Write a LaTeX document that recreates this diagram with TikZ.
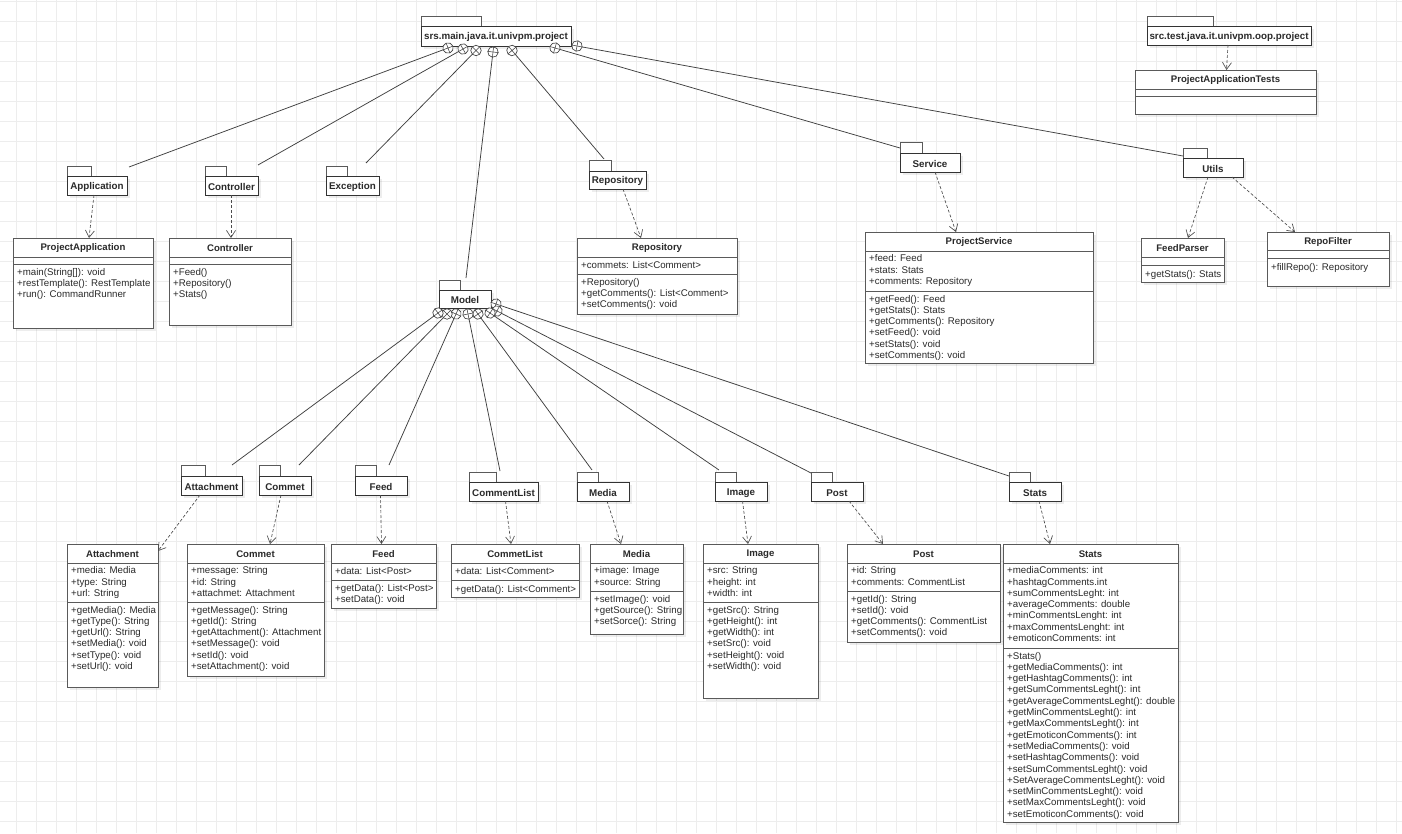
\documentclass[tikz,border=0pt]{standalone}
\usepackage{fontspec}
\setmainfont{Liberation Sans}
\usetikzlibrary{arrows.meta}
\definecolor{inkc}{HTML}{2A2A2A}
\definecolor{edgec}{HTML}{5A5A5A}
\definecolor{gridc}{HTML}{EDEDED}
\tikzset{
  x=1pt,y=-1pt,
  gridline/.style={draw=gridc,line width=.7pt},
  softshadow/.style={fill=black,fill opacity=.07,draw=none},
  boxshape/.style={draw=edgec,line width=.9pt,fill=white,rectangle,inner sep=0pt,outer sep=0pt,anchor=north west},
  sepline/.style={draw=edgec,line width=.8pt},
  titletext/.style={font=\fontsize{9.6pt}{11.3pt}\selectfont\bfseries,text=inkc,inner sep=0pt},
  pkgtext/.style={font=\fontsize{9.8pt}{11.3pt}\selectfont\bfseries,text=inkc,inner sep=0pt,yshift=-1.2pt},
  rowstext/.style={font=\fontsize{9.7pt}{11.3pt}\selectfont,text=inkc,align=left,inner sep=0pt,anchor=north west,execute at begin node={\rule{0pt}{8pt}}},
  assoc/.style={draw=black!75,line width=.75pt},
  nestmark/.style={circle,draw=black!75,fill=white,line width=.65pt,minimum size=10.5pt,inner sep=0pt,outer sep=0pt},
  dep/.style={draw=black!70,line width=.65pt,dash pattern=on 3pt off 2pt,-{Straight Barb[length=7pt,width=9pt,line width=.65pt]}},
}
% name x1 y1 x2 y4
\newcommand\classbox[5]{%
  \pgfmathsetmacro\bw{#4-#2}\pgfmathsetmacro\bh{#5-#3}%
  \fill[softshadow] (#2+3,#3+3) rectangle (#4+3,#5+3);
  \node[boxshape,minimum width=\bw pt,minimum height=\bh pt] (#1) at (#2,#3) {};
}
\newcommand\classhead[6]{% name x1 x2 y1 y2 title
  \pgfmathsetmacro\tcx{(#2+#3)/2}\pgfmathsetmacro\tcy{#4+10.3}%
  \node[titletext] (#1-title) at (\tcx,\tcy) {#6};
  \draw[sepline] (#2,#5) -- (#3,#5);
}
\newcommand\classrows[4]{% name x1 yline rows
  \draw[sepline] (#2,#3) -- (#1.east |- #2,#3);
  \node[rowstext] (#1-rows#3) at (#2+4,#3+3.8) {#4};
}
% name x1 x2 tabx y1 y2 y3 label
\newcommand\pkgbox[8]{%
  \pgfmathsetmacro\bw{#3-#2}\pgfmathsetmacro\bh{#7-#6}%
  \fill[softshadow] (#2+3,#6+3) rectangle (#3+3,#7+3);
  \draw[draw=edgec,line width=.9pt,fill=white] (#2,#6) -- (#2,#5) -- (#4,#5) -- (#4,#6);
  \node[boxshape,draw=black!80,minimum width=\bw pt,minimum height=\bh pt] (#1) at (#2,#6) {};
  \node[pkgtext] at (#1.center) {#8};
}
% name x y endx endy
\newcommand\nest[5]{%
  \pgfmathsetmacro\na{atan2(-(#5-#3),#4-#2)}%
  \coordinate (#1-end) at (#4,#5);
  \draw[assoc] (#2,#3) -- (#1-end);
  \node[nestmark,rotate=\na] (#1) at (#2,#3) {};
  \draw[black!75,line width=.55pt] (#1.north) -- (#1.south) (#1.east) -- (#1.west);
}
\begin{document}
\begin{tikzpicture}
\useasboundingbox (0,0) rectangle (1402,833);
\fill[white] (0,0) rectangle (1402,833);
\foreach \i in {0,...,70} {\draw[gridline] (\i*20-4,0) -- (\i*20-4,833);}
\foreach \i in {0,...,41} {\draw[gridline] (0,\i*20+1) -- (1402,\i*20+1);}

% packages
\pkgbox{ptop}{421}{571}{481}{16}{26}{46}{srs.main.java.it.univpm.project}
\pkgbox{ptest}{1147}{1311}{1213}{16}{26}{45}{src.test.java.it.univpm.oop.project}
\pkgbox{papp}{67}{127}{91}{166}{176}{195}{Application}
\pkgbox{pctl}{205}{258}{226}{166}{176}{195}{Controller}
\pkgbox{pexc}{326}{379}{347}{166}{176}{195}{Exception}
\pkgbox{prep}{589}{646}{611}{160}{171}{189}{Repository}
\pkgbox{psvc}{900}{960}{922}{142}{153}{172}{Service}
\pkgbox{putl}{1183}{1243}{1207}{148}{158}{177}{Utils}
\pkgbox{pmod}{439}{491}{460}{280}{290}{308}{Model}
\pkgbox{patt}{181}{242}{205}{465}{476}{495}{Attachment}
\pkgbox{pcom}{259}{311}{280}{465}{476}{495}{Commet}
\pkgbox{pfee}{355}{407}{376}{465}{476}{495}{Feed}
\pkgbox{pcli}{469}{538}{496}{472}{482}{501}{CommentList}
\pkgbox{pmed}{577}{629}{598}{472}{482}{501}{Media}
\pkgbox{pima}{715}{767}{736}{472}{482}{501}{Image}
\pkgbox{ppos}{811}{863}{832}{472}{482}{501}{Post}
\pkgbox{psta}{1009}{1061}{1030}{472}{482}{501}{Stats}

% classes
\classbox{ctests}{1135}{70}{1316}{114}
\classhead{ctests}{1135}{1316}{70}{89}{ProjectApplicationTests}
\draw[sepline] (1135,96) -- (1316,96);

\classbox{capp}{13}{238}{153}{328}
\classhead{capp}{13}{153}{238}{257}{ProjectApplication}
\classrows{capp}{13}{264}{+main(String[]): void\\+restTemplate(): RestTemplate\\+run(): CommandRunner}

\classbox{cctl}{169}{238}{291}{325}
\classhead{cctl}{169}{291}{238}{257}{Controller}
\classrows{cctl}{169}{264}{+Feed()\\+Repository()\\+Stats()}

\classbox{crep}{577}{238}{737}{314}
\classhead{crep}{577}{737}{238}{257}{Repository}
\node[rowstext] (crep-a) at (581,260.5) {+commets: List<Comment>};
\classrows{crep}{577}{274}{+Repository()\\+getComments(): List<Comment>\\+setComments(): void}

\classbox{csvc}{865}{232}{1093}{363}
\classhead{csvc}{865}{1093}{232}{251}{ProjectService}
\node[rowstext] (csvc-a) at (869,254.5) {+feed: Feed\\+stats: Stats\\+comments: Repository};
\classrows{csvc}{865}{291}{+getFeed(): Feed\\+getStats(): Stats\\+getComments(): Repository\\+setFeed(): void\\+setStats(): void\\+setComments(): void}

\classbox{cfp}{1141}{238}{1224}{282}
\classhead{cfp}{1141}{1224}{238}{257}{FeedParser}
\classrows{cfp}{1141}{265}{+getStats(): Stats}

\classbox{crf}{1267}{232}{1389}{286}
\classhead{crf}{1267}{1389}{232}{250}{RepoFilter}
\classrows{crf}{1267}{258}{+fillRepo(): Repository}

\classbox{catt}{67}{544}{158}{687}
\classhead{catt}{67}{158}{544}{563}{Attachment}
\node[rowstext] (catt-a) at (71,566.5) {+media: Media\\+type: String\\+url: String};
\classrows{catt}{67}{602}{+getMedia(): Media\\+getType(): String\\+getUrl(): String\\+setMedia(): void\\+setType(): void\\+setUrl(): void}

\classbox{ccom}{187}{544}{324}{676}
\classhead{ccom}{187}{324}{544}{563}{Commet}
\node[rowstext] (ccom-a) at (191,566.5) {+message: String\\+id: String\\+attachmet: Attachment};
\classrows{ccom}{187}{602}{+getMessage(): String\\+getId(): String\\+getAttachment(): Attachment\\+setMessage(): void\\+setId(): void\\+setAttachment(): void}

\classbox{cfee}{331}{544}{436}{608}
\classhead{cfee}{331}{436}{544}{563}{Feed}
\node[rowstext] (cfee-a) at (335,566.5) {+data: List<Post>};
\classrows{cfee}{331}{580}{+getData(): List<Post>\\+setData(): void}

\classbox{ccli}{451}{544}{579}{597}
\classhead{ccli}{451}{579}{544}{563}{CommetList}
\node[rowstext] (ccli-a) at (455,566.5) {+data: List<Comment>};
\classrows{ccli}{451}{580}{+getData(): List<Comment>}

\classbox{cmed}{590}{544}{683}{634}
\classhead{cmed}{590}{683}{544}{563}{Media}
\node[rowstext] (cmed-a) at (594,566.5) {+image: Image\\+source: String};
\classrows{cmed}{590}{591}{+setImage(): void\\+getSource(): String\\+setSorce(): String}

\classbox{cima}{703}{544}{818}{698}
\classhead{cima}{703}{818}{544}{563}{Image}
\node[rowstext] (cima-a) at (707,566.5) {+src: String\\+height: int\\+width: int};
\classrows{cima}{703}{602}{+getSrc(): String\\+getHeight(): int\\+getWidth(): int\\+setSrc(): void\\+setHeight(): void\\+setWidth(): void}

\classbox{cpos}{847}{544}{1000}{642}
\classhead{cpos}{847}{1000}{544}{563}{Post}
\node[rowstext] (cpos-a) at (851,566.5) {+id: String\\+comments: CommentList};
\classrows{cpos}{847}{591}{+getId(): String\\+setId(): void\\+getComments(): CommentList\\+setComments(): void}

\classbox{csta}{1003}{544}{1178}{822}
\classhead{csta}{1003}{1178}{544}{563}{Stats}
\node[rowstext] (csta-a) at (1007,566.5) {+mediaComments: int\\+hashtagComments.int\\+sumCommentsLeght: int\\+averageComments: double\\+minCommentsLenght: int\\+maxCommentsLenght: int\\+emoticonComments: int};
\classrows{csta}{1003}{648}{+Stats()\\+getMediaComments(): int\\+getHashtagComments(): int\\+getSumCommentsLeght(): int\\+getAverageCommentsLeght(): double\\+getMinCommentsLeght(): int\\+getMaxCommentsLeght(): int\\+getEmoticonComments(): int\\+setMediaComments(): void\\+setHashtagComments(): void\\+setSumCommentsLeght(): void\\+SetAverageCommentsLeght(): void\\+setMinCommentsLeght(): void\\+setMaxCommentsLeght(): void\\+setEmoticonComments(): void}

% containment
\nest{n1}{448}{48}{129}{167}
\nest{n2}{463}{49}{258}{165}
\nest{n3}{476}{50.5}{366}{163}
\nest{n5}{512}{50.5}{604}{159}
\nest{n6}{555}{48}{900}{148}
\nest{n7}{577}{46}{1183}{156}
\nest{n4}{493}{52}{466}{278}
\nest{m8}{496}{304}{1009}{476}
\nest{m7}{497}{311}{811}{473}
\nest{m6}{490}{313}{719}{470}
\nest{m5}{478}{314}{592}{470}
\nest{m4}{468}{314}{500}{471}
\nest{m3}{456}{314}{389}{465}
\nest{m2}{447}{314}{299}{465}
\nest{m1}{438}{313}{232}{465}

% dependencies
\draw[dep] (ptest.south -| 1228,0) -- (ctests.north -| 1226.5,0);
\draw[dep] (papp.south -| 94,0) -- (capp.north -| 89,0);
\draw[dep] (pctl.south -| 231,0) -- (cctl.north -| 231,0);
\draw[dep] (prep.south -| 623,0) -- (crep.north -| 641,0);
\draw[dep] (psvc.south -| 935,0) -- (csvc.north -| 956,0);
\draw[dep] (putl.south -| 1208,0) -- (cfp.north -| 1188,0);
\draw[dep] (putl.south -| 1232,0) -- (crf.north -| 1295,0);
\draw[dep] (patt.south -| 200,0) -- (catt.east |- 0,551);
\draw[dep] (pcom.south -| 281,0) -- (ccom.north -| 270,0);
\draw[dep] (pfee.south -| 380.5,0) -- (cfee.north -| 381.5,0);
\draw[dep] (pcli.south -| 505.5,0) -- (ccli.north -| 511,0);
\draw[dep] (pmed.south -| 607,0) -- (cmed.north -| 621,0);
\draw[dep] (pima.south -| 742.5,0) -- (cima.north -| 748,0);
\draw[dep] (ppos.south -| 849,0) -- (cpos.north -| 883,0);
\draw[dep] (psta.south -| 1039,0) -- (csta.north -| 1050,0);
\end{tikzpicture}
\end{document}
